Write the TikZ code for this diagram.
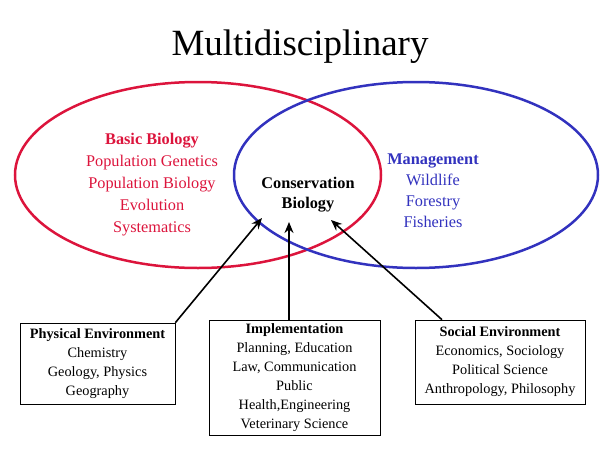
\documentclass[tikz,border=0pt]{standalone}
\usepackage{fontspec}
\setmainfont{Liberation Serif}
\usetikzlibrary{arrows.meta}
\begin{document}
\begin{tikzpicture}[x=1pt,y=-1pt,
  boxs/.style={draw,line width=0.6pt,fill=white,align=center,font=\fontsize{14.3}{19}\selectfont,inner sep=0pt},
  arr/.style={line width=1.6pt,-{Stealth[length=11pt,width=9pt]}}]
\useasboundingbox (0,0) rectangle (600,450);
\definecolor{rr}{RGB}{220,20,60}
\definecolor{bb}{RGB}{50,50,190}
\node (title) at (300,47) {\fontsize{37}{40}\selectfont Multidisciplinary};
\draw[rr,line width=2.5pt] (198,175) ellipse [x radius=183,y radius=93];
\draw[bb,line width=2.5pt] (416,175) ellipse [x radius=182,y radius=93];
\node[text=rr,align=center,font=\fontsize{16.3}{22}\selectfont] (bio) at (152,185)
 {\textbf{Basic Biology}\\Population Genetics\\Population Biology\\Evolution\\Systematics};
\node[text=bb,align=center,font=\fontsize{16.3}{21}\selectfont] (man) at (433,191)
 {\textbf{Management}\\Wildlife\\Forestry\\Fisheries};
\node[align=center,font=\bfseries\fontsize{16.3}{20}\selectfont] (cb) at (308,195) {Conservation\\Biology};
\node[boxs,minimum width=155,minimum height=81] (pe) at (97.5,363.5)
 {\textbf{Physical Environment}\\Chemistry\\Geology, Physics\\Geography};
\node[boxs,minimum width=171,minimum height=115] (im) at (294.5,377.5)
 {\textbf{Implementation}\\Planning, Education\\Law, Communication\\Public\\Health,Engineering\\Veterinary Science};
\node[boxs,minimum width=170,minimum height=84] (se) at (500,362)
 {\textbf{Social Environment}\\Economics, Sociology\\Political Science\\Anthropology, Philosophy};
\coordinate (a1) at (262,218);
\coordinate (a2) at (289,222);
\coordinate (a3) at (331,220);
\draw[arr] (pe.north east) -- (a1);
\draw[arr] (im.north -| a2) -- (a2);
\draw[arr] ([xshift=-58pt]se.north) -- (a3);
\end{tikzpicture}
\end{document}
